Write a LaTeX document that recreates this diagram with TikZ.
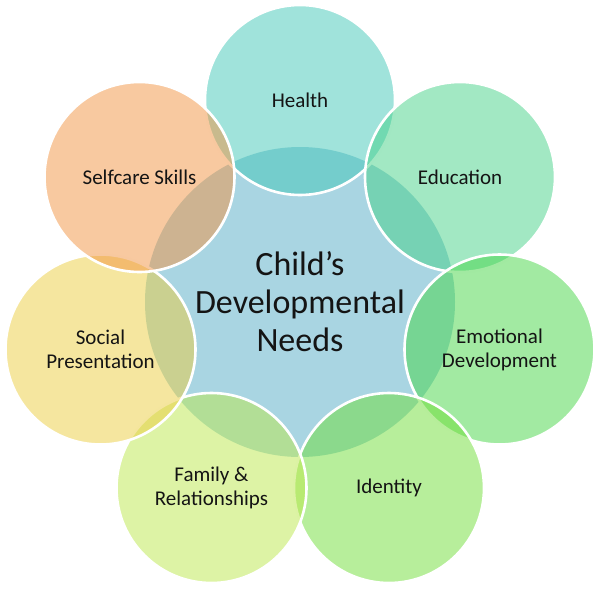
\documentclass[tikz,border=0pt]{standalone}
\usepackage{fontspec}
\setmainfont{Carlito}
\definecolor{centerc}{RGB}{169,213,226}
\definecolor{healthc}{RGB}{65,199,183}
\definecolor{educc}{RGB}{69,209,135}
\definecolor{emotc}{RGB}{69,213,69}
\definecolor{identc}{RGB}{111,221,55}
\definecolor{familyc}{RGB}{187,231,75}
\definecolor{socialc}{RGB}{235,205,63}
\definecolor{selfc}{RGB}{241,147,65}
\definecolor{txt}{RGB}{20,20,20}
\tikzset{
  bubble/.style={circle, minimum size=190pt, inner sep=0pt, draw=white, line width=2.6pt,
    fill opacity=0.5, text opacity=1, align=center, text=txt,
    font=\fontsize{21}{24}\selectfont},
  hub/.style={circle, minimum size=310pt, inner sep=0pt, fill=centerc, align=center, text=txt,
    font=\fontsize{34}{38}\selectfont}
}
\begin{document}
\begin{tikzpicture}[x=1pt,y=-1pt]
\useasboundingbox (0,0) rectangle (600,590);
\node[hub] (center) at (300,302) {Child’s\\Developmental\\Needs};
\node[bubble, fill=healthc] (health) at (300,100) {Health};
\node[bubble, fill=educc] (education) at (460,177) {Education};
\node[bubble, fill=emotc] (emotional) at (499.5,349.5) {Emotional\\Development};
\node[bubble, fill=identc] (identity) at (389,488) {Identity};
\node[bubble, fill=familyc] (family) at (211.5,488) {Family \&\\Relationships};
\node[bubble, fill=socialc] (social) at (100.5,349.5) {Social\\Presentation};
\node[bubble, fill=selfc] (selfcare) at (139.5,177) {Selfcare Skills};
\end{tikzpicture}
\end{document}
